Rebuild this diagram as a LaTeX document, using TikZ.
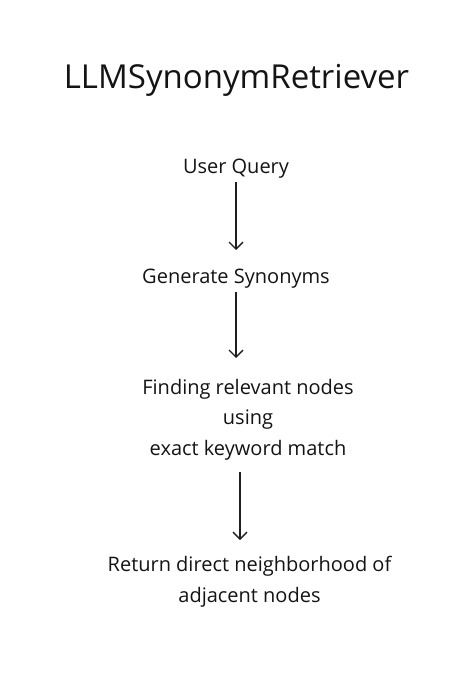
\documentclass[tikz,border=0pt]{standalone}
\usepackage{fontspec}
\setmainfont{Open Sans}
\usetikzlibrary{arrows.meta}
\begin{document}
\begin{tikzpicture}[x=1pt,y=-1pt,
  lbl/.style={inner sep=0pt, align=center, font=\fontsize{20}{30.5}\selectfont, text=black!92},
  ttl/.style={inner sep=0pt, font=\fontsize{33}{38}\selectfont, text=black!92},
  arr/.style={draw=black!88, line width=1.3pt, -{Straight Barb[length=7pt,width=14pt,line width=1.3pt]}}]
\useasboundingbox[fill=white] (0,0) rectangle (474,674);
\node[ttl, anchor=base] (t) at (236.5,89) {LLMSynonymRetriever};
\node[lbl, anchor=base] (uq) at (236,173) {User Query};
\node[lbl, anchor=base] (gs) at (236,283) {Generate Synonyms};
\node[lbl, anchor=base] (fr) at (248,455) {Finding relevant nodes\\using\\exact keyword match};
\node[lbl, anchor=base] (rd) at (249.5,602) {Return direct neighborhood of\\adjacent nodes};
\coordinate (a1s) at (236,182); \coordinate (a1e) at (236,250);
\coordinate (a2s) at (236,292); \coordinate (a2e) at (236,358);
\coordinate (a3s) at (240,472); \coordinate (a3e) at (240,540);
\draw[arr] (a1s) -- (a1e);
\draw[arr] (a2s) -- (a2e);
\draw[arr] (a3s) -- (a3e);
\end{tikzpicture}
\end{document}
